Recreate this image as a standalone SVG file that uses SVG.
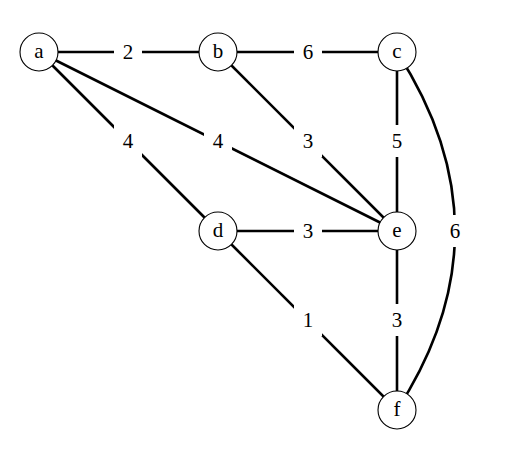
<svg xmlns="http://www.w3.org/2000/svg" width="520" height="455" viewBox="0 0 520 455">
<style>
.edge{stroke:#000;stroke-width:2.6;fill:none}
.node circle{fill:#fff;stroke:#000;stroke-width:1.1}
text{font-family:"Liberation Serif","Times New Roman",serif;font-size:21px;text-anchor:middle;dominant-baseline:central;fill:#000}
.lbl rect{fill:#fff;stroke:none}
</style>
<rect width="520" height="455" fill="#fff"/>
<g id="connectors">
<line class="edge" x1="39" y1="52" x2="218" y2="52"/>
<line class="edge" x1="218" y1="52" x2="397" y2="52"/>
<line class="edge" x1="39" y1="52" x2="218" y2="231"/>
<line class="edge" x1="39" y1="52" x2="397" y2="231"/>
<line class="edge" x1="218" y1="52" x2="397" y2="231"/>
<line class="edge" x1="397" y1="52" x2="397" y2="231"/>
<line class="edge" x1="218" y1="231" x2="397" y2="231"/>
<line class="edge" x1="218" y1="231" x2="397" y2="410"/>
<line class="edge" x1="397" y1="231" x2="397" y2="410"/>
<path class="edge" d="M397,52 Q513,231 397,410"/>
<g class="lbl">
<rect x="114" y="36" width="28" height="32"/><text x="128" y="52">2</text>
<rect x="294" y="36" width="28" height="32"/><text x="308" y="52">6</text>
<rect x="114" y="125" width="28" height="32"/><text x="128" y="141">4</text>
<rect x="204" y="125" width="28" height="32"/><text x="218" y="141">4</text>
<rect x="294" y="125" width="28" height="32"/><text x="308" y="141">3</text>
<rect x="383" y="125" width="28" height="32"/><text x="397" y="141">5</text>
<rect x="294" y="215" width="28" height="32"/><text x="308" y="231">3</text>
<rect x="441" y="215" width="28" height="32"/><text x="455" y="231">6</text>
<rect x="294" y="304" width="28" height="32"/><text x="308" y="320">1</text>
<rect x="383" y="304" width="28" height="32"/><text x="397" y="320">3</text>
</g>
</g>
<g id="node-a" class="node"><circle cx="39" cy="52" r="19"/><text x="39" y="51">a</text></g>
<g id="node-b" class="node"><circle cx="218" cy="52" r="19"/><text x="218" y="51">b</text></g>
<g id="node-c" class="node"><circle cx="397" cy="52" r="19"/><text x="397" y="51">c</text></g>
<g id="node-d" class="node"><circle cx="218" cy="231" r="19"/><text x="218" y="230">d</text></g>
<g id="node-e" class="node"><circle cx="397" cy="231" r="19"/><text x="397" y="230">e</text></g>
<g id="node-f" class="node"><circle cx="397" cy="410" r="19"/><text x="397" y="409">f</text></g>
</svg>
